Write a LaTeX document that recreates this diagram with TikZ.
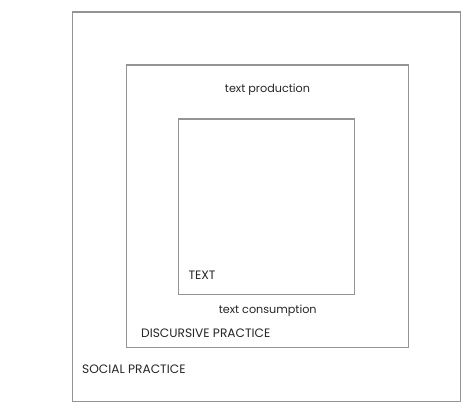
\documentclass[tikz,border=0pt]{standalone}
\usepackage{fontspec}
\setmainfont{Poppins}
\begin{document}
\begin{tikzpicture}[x=1pt,y=-1pt,
  frame/.style={draw=black!42, line width=1.4pt},
  lbl/.style={text=black!85, font=\fontsize{11.2}{13}\selectfont, inner sep=0pt},
  caps/.style={text=black!85, font=\fontsize{12.2}{14}\selectfont, inner sep=0pt}]
\useasboundingbox (0,0) rectangle (474,409);
\draw[frame] (72.7,12) rectangle (460.7,401.7);
\draw[frame] (126.7,65) rectangle (408.3,347.7);
\draw[frame] (178.3,119) rectangle (354.2,294.3);
\node[lbl] (prod) at (267.5,89.3) {text production};
\node[caps, anchor=west] (txt) at (188.3,275.7) {TEXT};
\node[lbl] (cons) at (267.7,311) {text consumption};
\node[caps, anchor=west] (disc) at (141,333.3) {DISCURSIVE PRACTICE};
\node[caps, anchor=west] (soc) at (82,369.3) {SOCIAL PRACTICE};
\end{tikzpicture}
\end{document}
